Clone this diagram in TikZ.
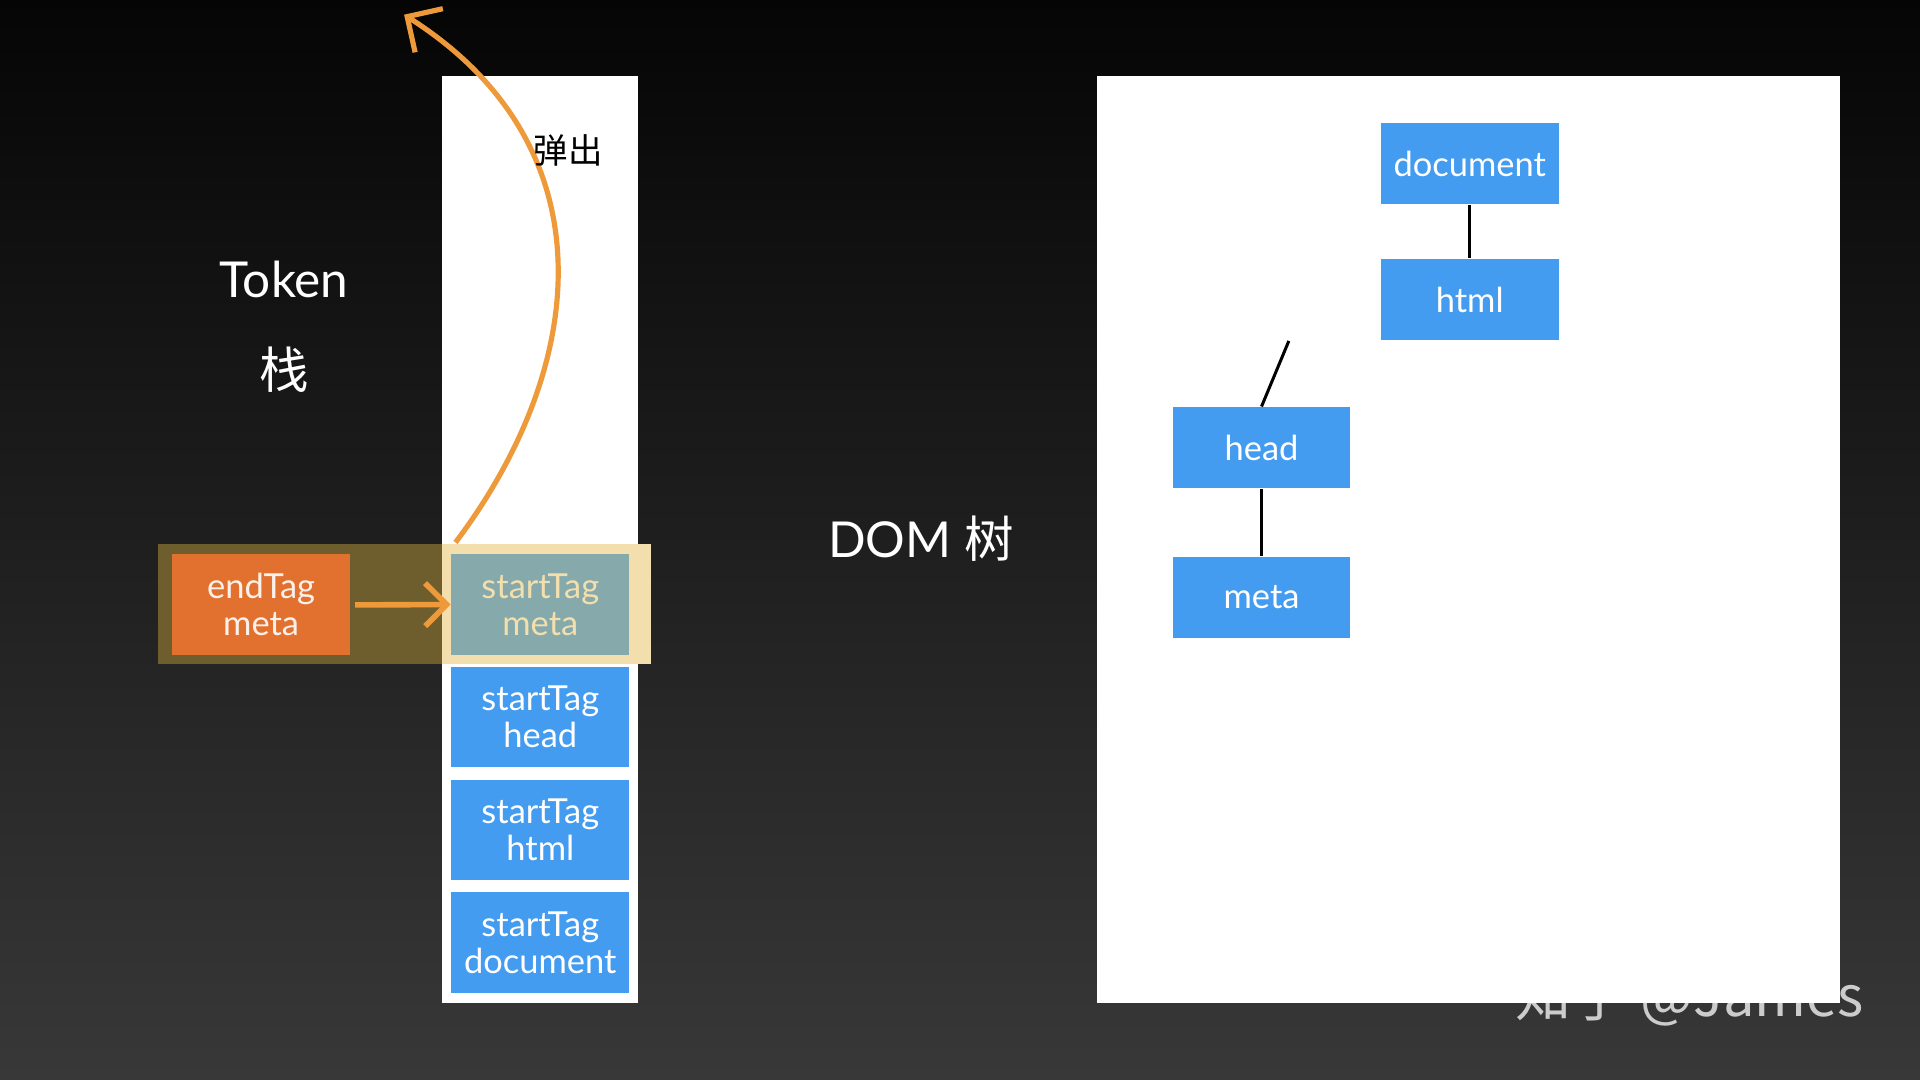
\documentclass[tikz,border=0pt]{standalone}
\usepackage{fontspec}
\setmainfont{Lato}
\newfontfamily\cjk{Noto Sans CJK SC}
\usetikzlibrary{arrows.meta}
\definecolor{bl}{HTML}{439CF0}
\definecolor{og}{HTML}{E2712F}
\definecolor{arr}{HTML}{EE9A3A}
\definecolor{hl}{HTML}{6E5E2E}
\definecolor{hl2}{HTML}{F3DFAE}
\definecolor{tg}{HTML}{86A9AB}
\begin{document}
\begin{tikzpicture}[x=0.01cm,y=-0.01cm,
  blk/.style={fill=bl,text=white,minimum width=1.45cm,minimum height=0.82cm,inner sep=0,font=\fontsize{8}{8.6}\selectfont,align=center},
  tnode/.style={fill=bl,text=white,minimum width=1.45cm,minimum height=0.66cm,inner sep=0,font=\fontsize{8}{9}\selectfont},
  lbl/.style={text=white,font=\fontsize{11.5}{12}\selectfont}]
\shade[top color=black!98,bottom color=black!78] (0,0) rectangle (1568,882);
\useasboundingbox (0,0) rectangle (1568,882);
\fill[white] (361,62) rectangle (521,819);
\fill[white] (896,62) rectangle (1503,819);
\fill[hl] (129,444) rectangle (532,542);
\fill[hl2] (361,444) rectangle (532,542);
\node[blk,fill=og,anchor=north west,text=white!90!og] (end) at (140,452) {endTag\\meta};
\node[blk,fill=tg,anchor=north west,text=hl2] (s1) at (368,452) {startTag\\meta};
\node[blk,anchor=north west] (s2) at (368,544) {startTag\\head};
\node[blk,anchor=north west] (s3) at (368,636) {startTag\\html};
\node[blk,anchor=north west] (s4) at (368,728) {startTag\\document};
\coordinate (a0) at (290,494);
\draw[arr,line width=1.3pt,-{Straight Barb[length=5pt]}] (a0) -- (s1.west);
\coordinate (top) at (330,12);
\coordinate (bot) at (372,443);
\draw[arr,line width=1.2pt,-{Straight Barb[length=6pt]}] (bot) .. controls (480,300) and (500,120) .. (top);
\node[font=\cjk\fontsize{8}{8}\selectfont] (pop) at (464,123) {弹出};
\node[lbl] (tok) at (232,228) {Token};
\node[lbl,font=\cjk\fontsize{11.5}{12}\selectfont] (zh) at (232,302) {栈};
\node[lbl] (dom) at (752,440) {DOM {\cjk 树}};
\node[tnode,anchor=north west] (d) at (1127,100) {document};
\node[tnode,anchor=north west] (h) at (1127,211) {html};
\node[tnode,anchor=north west] (he) at (957,332) {head};
\node[tnode,anchor=north west] (m) at (957,454) {meta};
\draw[black,line width=0.7pt] (d) -- (h);
\draw[black,line width=0.7pt] ([xshift=-42]h.south) -- (he.north);
\draw[black,line width=0.7pt] (he) -- (m);
\node[text=white,opacity=0.75,font=\cjk\fontsize{13}{13}\selectfont] (wm) at (1380,815) {知乎 @James};
\end{tikzpicture}
\end{document}
